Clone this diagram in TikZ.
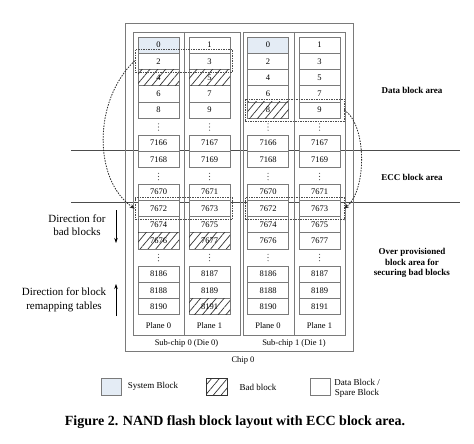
\documentclass[tikz,border=0pt]{standalone}
\usepackage{fontspec}
\setmainfont{Liberation Serif}
\usetikzlibrary{patterns.meta,arrows.meta}
\definecolor{sysblue}{HTML}{E4ECF5}
\definecolor{edge}{HTML}{7A7A7A}
\tikzset{
  blk/.style={draw=edge,line width=0.6pt,fill=white,minimum width=41pt,minimum height=16.25pt,inner sep=0pt,font=\fontsize{8.5}{9}\selectfont},
  sys/.style={blk,fill=sysblue},
  bad/.style={blk,postaction={pattern={Lines[angle=50,distance=6pt,line width=0.7pt]},pattern color=black!80}},
  vdot/.style={fill=black!70,circle,inner sep=0pt,minimum size=1.1pt},
  frame/.style={draw=edge,line width=0.6pt},
  dbox/.style={draw=black!70,line width=0.5pt,dash pattern=on 1.5pt off 1pt,inner sep=0pt},
  darc/.style={draw=black!85,line width=0.8pt,dash pattern=on 1.5pt off 1.2pt,-{Stealth[length=5pt,width=4pt]}},
  area/.style={font=\fontsize{9}{10.5}\selectfont\bfseries,align=center},
  lbl/.style={font=\fontsize{8.5}{10}\selectfont,inner sep=0pt},
  side/.style={font=\fontsize{11}{13.5}\selectfont,align=center},
  dirarrow/.style={draw=black,line width=0.6pt,-{Stealth[length=5pt,width=3.5pt]}},
  hline/.style={draw=black!70,line width=0.5pt},
}
\newcommand{\vdotsat}[2]{%
  \node[vdot] at (#1,#2-3.2) {};
  \node[vdot] at (#1,#2) {};
  \node[vdot] at (#1,#2+3.2) {};}
\begin{document}
\begin{tikzpicture}[x=1pt,y=-1pt]
\useasboundingbox (0,0) rectangle (474,444);
% area divider lines
\coordinate (l1a) at (71,150); \coordinate (l1b) at (460,150);
\coordinate (l2a) at (71,202); \coordinate (l2b) at (460,202);
\draw[hline] (l1a) -- (l1b);
\draw[hline] (l2a) -- (l2b);
% chip and sub-chips
\draw[frame] (125,23) rectangle (353,351);
\draw[frame] (133,32) rectangle (240,335);
\draw[frame] (184,32) -- (184,335);
\draw[frame] (243,32) rectangle (345,335);
\draw[frame] (294,32) -- (294,335);
% blocks
\foreach \s/\xa/\xb in {0/158.5/209.5, 1/268/319.5}{
  \foreach \i in {0,...,4}{
    \pgfmathtruncatemacro{\ev}{2*\i}
    \pgfmathtruncatemacro{\od}{2*\i+1}
    \node[blk] (s\s p0r\i) at (\xa,{45.1+16.25*\i}) {\ev};
    \node[blk] (s\s p1r\i) at (\xb,{45.1+16.25*\i}) {\od};
  }
  \vdotsat{\xa}{127}\vdotsat{\xb}{127}
  \node[blk] (s\s p0b0) at (\xa,143.1) {7166};
  \node[blk] (s\s p1b0) at (\xb,143.1) {7167};
  \node[blk] (s\s p0b1) at (\xa,159.4) {7168};
  \node[blk] (s\s p1b1) at (\xb,159.4) {7169};
  \vdotsat{\xa}{176.5}\vdotsat{\xb}{176.5}
  \foreach \j/\ev/\od in {0/7670/7671,1/7672/7673,2/7674/7675,3/7676/7677}{
    \node[blk] (s\s p0c\j) at (\xa,{192.1+16.25*\j}) {\ev};
    \node[blk] (s\s p1c\j) at (\xb,{192.1+16.25*\j}) {\od};
  }
  \vdotsat{\xa}{257.5}\vdotsat{\xb}{257.5}
  \foreach \j/\ev/\od in {0/8186/8187,1/8188/8189,2/8190/8191}{
    \node[blk] (s\s p0e\j) at (\xa,{274.1+16.25*\j}) {\ev};
    \node[blk] (s\s p1e\j) at (\xb,{274.1+16.25*\j}) {\od};
  }
  \node[lbl] (s\s pl0) at (\xa,326) {Plane 0};
  \node[lbl] (s\s pl1) at (\xb,326) {Plane 1};
}
% system and bad blocks
\node[sys] at (s0p0r0) {0};
\node[sys] at (s1p0r0) {0};
\node[bad] at (s0p0r2) {4};
\node[bad] at (s0p1r2) {5};
\node[bad] at (s1p0r4) {8};
\node[bad] at (s0p0c3) {7676};
\node[bad] at (s0p1c3) {7677};
\node[bad] at (s0p1e2) {8191};
% dashed boxes
\node[dbox,minimum width=97pt,minimum height=23pt] (db1) at (183.5,60.8) {};
\node[dbox,minimum width=99pt,minimum height=22pt] (db2) at (294.5,110) {};
\node[dbox,minimum width=97pt,minimum height=22pt] (db3) at (183.5,208.7) {};
\node[dbox,minimum width=99pt,minimum height=22pt] (db4) at (294.5,208.7) {};
% remapping arcs
\draw[darc] (db1.west) .. controls (93,100) and (93,180) .. (db3.west);
\draw[darc] (db2.east) .. controls (367,125) and (367,190) .. (db4.east);
% sub-chip and chip labels
\node[lbl] (sc0) at (186.5,343) {Sub-chip 0 (Die 0)};
\node[lbl] (sc1) at (294,343.5) {Sub-chip 1 (Die 1)};
\node[lbl] (chip) at (243,360.5) {Chip 0};
% area labels
\node[area] (a1) at (412,90) {Data block area};
\node[area] (a2) at (412,177) {ECC block area};
\node[area] (a3) at (412,263) {Over provisioned\\block area for\\securing bad blocks};
% direction labels
\node[side] (dir1) at (77,225) {Direction for\\bad blocks};
\node[side] (dir2) at (64,300) {Direction for block\\remapping tables};
\coordinate (d1s) at (116,210); \coordinate (d1e) at (116,243);
\coordinate (d2s) at (116,316); \coordinate (d2e) at (116,284);
\draw[dirarrow] (d1s) -- (d1e);
\draw[dirarrow] (d2s) -- (d2e);
% legend
\node[draw=edge,line width=0.6pt,fill=sysblue,minimum width=20pt,minimum height=17pt,inner sep=0pt] (lg1) at (111,386.5) {};
\node[lbl,font=\fontsize{9}{10}\selectfont] (lt1) at (153,386.5) {System Block};
\node[draw=black!80,line width=0.6pt,minimum width=21pt,minimum height=17pt,inner sep=0pt,postaction={pattern={Lines[angle=50,distance=6pt,line width=0.7pt]},pattern color=black!80}] (lg2) at (216.5,386.5) {};
\node[lbl,font=\fontsize{9}{10}\selectfont] (lt2) at (258,387) {Bad block};
\node[draw=edge,line width=0.6pt,minimum width=20pt,minimum height=17pt,inner sep=0pt] (lg3) at (320,386.5) {};
\node[lbl,font=\fontsize{9}{10}\selectfont,align=center] (lt3) at (357,388) {Data Block /\\Spare Block};
% caption
\node[font=\fontsize{14}{16}\selectfont\bfseries] (cap) at (235,422) {Figure 2. NAND flash block layout with ECC block area.};
\end{tikzpicture}
\end{document}
